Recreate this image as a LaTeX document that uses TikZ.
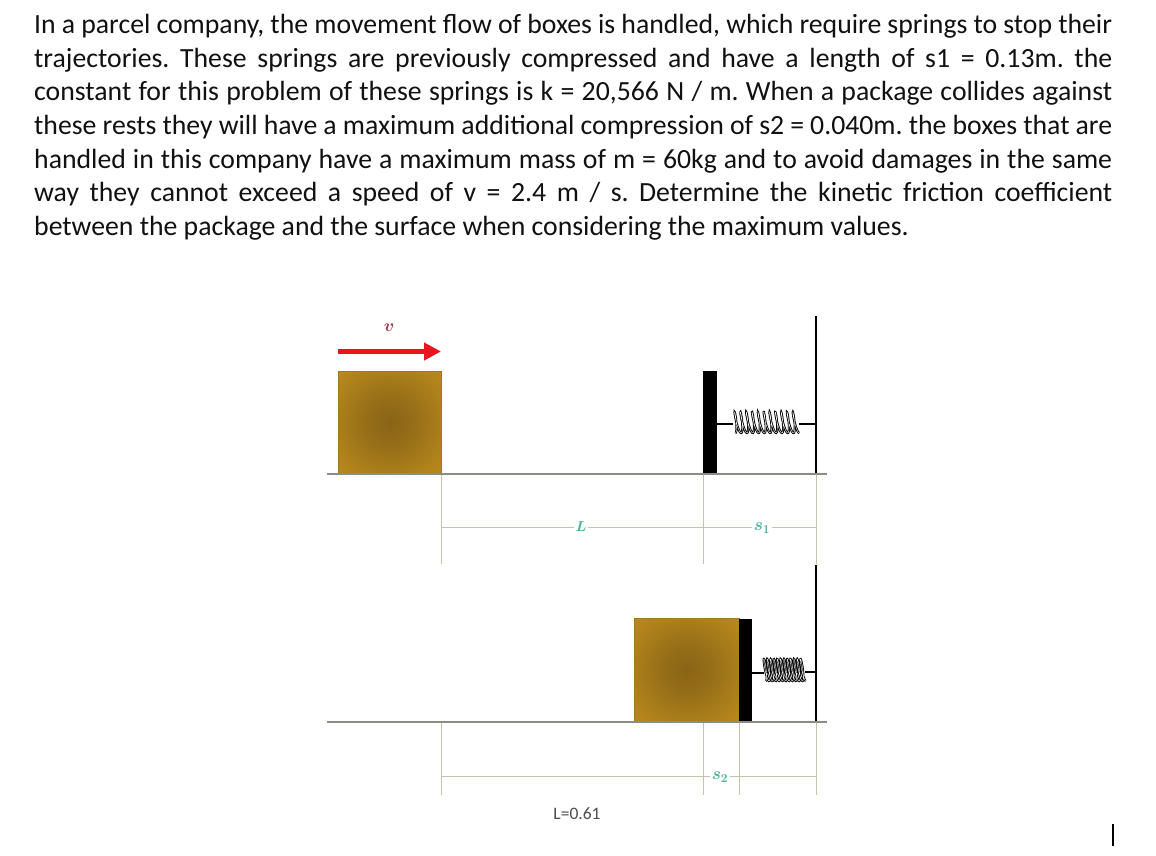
\documentclass[tikz,border=0pt]{standalone}
\usepackage{fontspec}
\setmainfont{Carlito}
\usetikzlibrary{arrows.meta}
\definecolor{boxouter}{HTML}{C5931F}
\definecolor{boxinner}{HTML}{8A6416}
\definecolor{dimline}{HTML}{BEC7AC}
\definecolor{groundc}{HTML}{8C8C84}
\definecolor{labelgreen}{HTML}{45B48C}
\definecolor{arrowred}{HTML}{E8141E}
\definecolor{vred}{HTML}{A83A4A}
\definecolor{textc}{HTML}{111111}
\pgfdeclareradialshading{parcelshade}{\pgfpoint{0bp}{0bp}}{%
  color(0bp)=(boxinner);
  color(12bp)=(boxinner!78!boxouter);
  color(28bp)=(boxinner!36!boxouter);
  color(46bp)=(boxouter)}
\newcommand{\linetext}[3]{%
  \node[para] (#1) at (34,#2) {\makebox[1078pt][s]{#3}};}
\newcommand{\coilspring}[6]{%
  \draw[coil] plot[domain=0:#5*360,samples=#6,variable=\t,smooth]
    ({#1+\t/(#5*360)*(#2-#1)+1.4*sin(\t)+1.8*cos(\t)},{#3+#4*cos(\t)});}
\tikzset{
  para/.style={anchor=base west,inner sep=0pt,font=\fontsize{27.75}{30}\selectfont\frenchspacing,text=textc},
  parcel/.style={shading=parcelshade,draw=boxinner!55!boxouter,line width=0.8pt},
  plate/.style={fill=black,draw=none},
  wall/.style={draw=black,line width=2.6pt},
  rod/.style={draw=black,line width=1.8pt},
  ground/.style={draw=groundc,line width=1.1pt},
  dim/.style={draw=dimline,line width=0.9pt},
  dimlabel/.style={fill=white,inner sep=1.5pt,text=labelgreen,font=\fontsize{17}{20}\selectfont\boldmath},
  coil/.style={draw=black,line width=0.9pt,double=white,double distance=0.4pt},
}
\begin{document}
\begin{tikzpicture}[x=1pt,y=-1pt]
\useasboundingbox[fill=white] (0,0) rectangle (1156,856);
% text
\linetext{l1}{34}{In a parcel company, the movement flow of boxes is handled, which require springs to stop their}
\linetext{l2}{67.5}{trajectories. These springs are previously compressed and have a length of s1 = 0.13m. the}
\linetext{l3}{101}{constant for this problem of these springs is k = 20,566 N / m. When a package collides against}
\linetext{l4}{134.5}{these rests they will have a maximum additional compression of s2 = 0.040m. the boxes that are}
\linetext{l5}{168}{handled in this company have a maximum mass of m = 60kg and to avoid damages in the same}
\linetext{l6}{201.5}{way they cannot exceed a speed of v = 2.4 m / s. Determine the kinetic friction coefficient}
\node[para] (l7) at (34,235) {between the package and the surface when considering the maximum values.};
% named points, upper scene
\coordinate (g1a) at (327,474); \coordinate (g1b) at (827,474);
\coordinate (t1a) at (441,474); \coordinate (t1ae) at (441,564);
\coordinate (t1b) at (703,474); \coordinate (t1be) at (703,564);
\coordinate (t1c) at (816,474); \coordinate (t1ce) at (816,564);
\coordinate (d1a) at (441,527); \coordinate (d1b) at (816,527);
\coordinate (w1a) at (816,316); \coordinate (w1b) at (816,474);
\coordinate (ar1) at (338,351.5); \coordinate (ar2) at (441,351.5);
% upper scene
\draw[dim] (t1a) -- (t1ae);
\draw[dim] (t1b) -- (t1be);
\draw[dim] (t1c) -- (t1ce);
\draw[dim] (d1a) -- (d1b);
\node[dimlabel,font=\fontsize{15}{18}\selectfont\boldmath] (lL) at (581,527) {$L$};
\node[dimlabel] (ls1) at (762,528) {$s_1$};
\shade[parcel] (338,371) rectangle (441,474);
\fill[plate] (703,371) rectangle (716.5,474);
\draw[wall] (w1a) -- (w1b);
\draw[ground] (g1a) -- (g1b);
\draw[rod] (716,424) -- (733,424);
\draw[rod] (799,424) -- (816,424);
\coilspring{733.5}{797.5}{422.5}{10.5}{11}{260}
\draw[draw=arrowred,line width=5pt,-{Triangle[length=17pt,width=17pt]}] (ar1) -- (ar2);
\node[inner sep=0pt,text=vred,font=\fontsize{17}{20}\selectfont\boldmath] (lv) at (389,328) {$v$};
% named points, lower scene
\coordinate (g2a) at (327,722); \coordinate (g2b) at (827,722);
\coordinate (t2a) at (441,722); \coordinate (t2ae) at (441,795);
\coordinate (t2b) at (703,722); \coordinate (t2be) at (703,795);
\coordinate (t2c) at (739,722); \coordinate (t2ce) at (739,795);
\coordinate (t2d) at (816,722); \coordinate (t2de) at (816,795);
\coordinate (d2a) at (441,776); \coordinate (d2b) at (816,776);
\coordinate (w2a) at (816,565); \coordinate (w2b) at (816,722);
% lower scene
\draw[dim] (t2a) -- (t2ae);
\draw[dim] (t2b) -- (t2be);
\draw[dim] (t2c) -- (t2ce);
\draw[dim] (t2d) -- (t2de);
\draw[dim] (d2a) -- (d2b);
\node[dimlabel] (ls2) at (720,777) {$s_2$};
\shade[parcel] (634.5,618.5) rectangle (739,722);
\fill[plate] (739,619) rectangle (752,722);
\draw[wall] (w2a) -- (w2b);
\draw[ground] (g2a) -- (g2b);
\draw[rod] (752,673) -- (764,673);
\draw[rod] (805,672) -- (816,672);
\coilspring{764}{804}{670}{11}{12}{280}
\node[inner sep=0pt,text=black!70,font=\fontsize{17.5}{20}\selectfont] (lval) at (577,813.5) {L=0.61};
% text cursor
\coordinate (c1) at (1113,824); \coordinate (c2) at (1113,846);
\draw[black,line width=1.2pt] (c1) -- (c2);
\end{tikzpicture}
\end{document}
